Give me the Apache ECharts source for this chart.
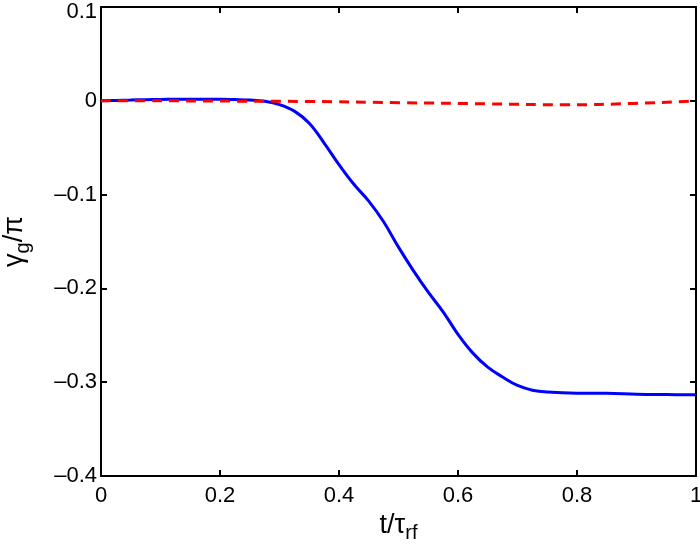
<!DOCTYPE html>
<html>
<head>
<meta charset="utf-8">
<script src="https://cdn.jsdelivr.net/npm/echarts@6/dist/echarts.min.js"></script>
<style>
html,body{margin:0;padding:0;background:#fff;}
#main{width:700px;height:547px;}
</style>
</head>
<body>
<div id="main"></div>
<script>
// Data
const blueT = [0, 0.025, 0.05, 0.075, 0.1, 0.125, 0.15, 0.175, 0.2, 0.225, 0.25, 0.275, 0.3, 0.325, 0.35, 0.375, 0.4, 0.425, 0.45, 0.475, 0.5, 0.525, 0.55, 0.575, 0.6, 0.625, 0.65, 0.675, 0.7, 0.725, 0.75, 0.8, 0.85, 0.9, 0.95, 1.0];
const blueV = [0, 0.0004, 0.0008, 0.0012, 0.0015, 0.0016, 0.0017, 0.0017, 0.0017, 0.0013, 0.0008, -0.0005, -0.004, -0.011, -0.024, -0.045, -0.068, -0.089, -0.107, -0.129, -0.156, -0.181, -0.204, -0.225, -0.249, -0.269, -0.284, -0.2945, -0.3035, -0.3085, -0.3105, -0.3117, -0.3118, -0.3128, -0.3132, -0.3134];
const redT = [0, 0.1, 0.2, 0.346, 0.503, 0.648, 0.783, 0.895, 0.99, 1.0];
const redV = [0, 0, -0.0003, -0.0007, -0.002, -0.0032, -0.0043, -0.0028, -0.0004, 0];
const xTicks = [0, 0.2, 0.4, 0.6, 0.8, 1];
const yTicks = [-0.4, -0.3, -0.2, -0.1, 0, 0.1];

const pair = (ts, vs) => ts.map((t, i) => [t, vs[i]]);
const fmt = v => {
  const r = Math.round(v * 10) / 10;
  return String(r).replace('-', '\u2013');
};
const yMax = yTicks[yTicks.length - 1];
const fmtY = v => Math.abs(v - yMax) < 1e-9 ? '{top|' + fmt(v) + '}' : fmt(v);
const FONT = 'Liberation Sans, Arial, sans-serif';
const labelFont = {fontFamily: FONT, fontSize: 22, color: '#000'};
const axisLine = {show: true, onZero: false, lineStyle: {color: '#000', width: 2}};
const tickInside = {show: true, inside: true, length: 6, lineStyle: {color: '#000', width: 2}};

const chart = echarts.init(document.getElementById('main'));
chart.setOption({
  animation: false,
  backgroundColor: '#fff',
  grid: {left: 101, right: 4, top: 7, bottom: 71, containLabel: false, outerBoundsMode: 'none'},
  xAxis: [{
    type: 'value', min: xTicks[0], max: xTicks[xTicks.length - 1], interval: 0.2,
    position: 'bottom',
    axisLine: axisLine, axisTick: tickInside, splitLine: {show: false},
    axisLabel: Object.assign({margin: 9, formatter: fmt}, labelFont),
    name: '{a|t/\u03c4}{s|rf}', nameLocation: 'middle', nameGap: 28,
    nameTextStyle: {rich: {
      a: {fontFamily: FONT, fontSize: 27, color: '#000'},
      s: {fontFamily: FONT, fontSize: 20, color: '#000', padding: [16, 0, 0, 0]}
    }}
  }, {
    type: 'value', min: xTicks[0], max: xTicks[xTicks.length - 1], interval: 0.2,
    position: 'top',
    axisLine: axisLine, axisTick: tickInside, splitLine: {show: false}, axisLabel: {show: false}
  }],
  yAxis: [{
    type: 'value', min: yTicks[0], max: yMax, interval: 0.1,
    position: 'left',
    axisLine: axisLine, axisTick: tickInside, splitLine: {show: false},
    axisLabel: Object.assign({margin: 4, formatter: fmtY,
      rich: {top: {fontFamily: FONT, fontSize: 22, color: '#000', padding: [9, 0, 0, 0]}}}, labelFont),
    name: '{a|\u03b3}{s|g}{a|/\u03c0}', nameLocation: 'middle', nameGap: 68,
    nameTextStyle: {rich: {
      a: {fontFamily: FONT, fontSize: 27, color: '#000'},
      s: {fontFamily: FONT, fontSize: 20, color: '#000', padding: [16, 0, 0, 0]}
    }}
  }, {
    type: 'value', min: yTicks[0], max: yMax, interval: 0.1,
    position: 'right',
    axisLine: axisLine, axisTick: tickInside, splitLine: {show: false}, axisLabel: {show: false}
  }],
  series: [{
    type: 'line', data: pair(blueT, blueV), smooth: 0.4, showSymbol: false,
    lineStyle: {color: '#0000ff', width: 3}, z: 2
  }, {
    type: 'line', data: pair(redT, redV), smooth: 0.4, showSymbol: false,
    lineStyle: {color: '#ff0000', width: 3, type: [10, 7]}, z: 3
  }]
});
</script>
</body>
</html>
